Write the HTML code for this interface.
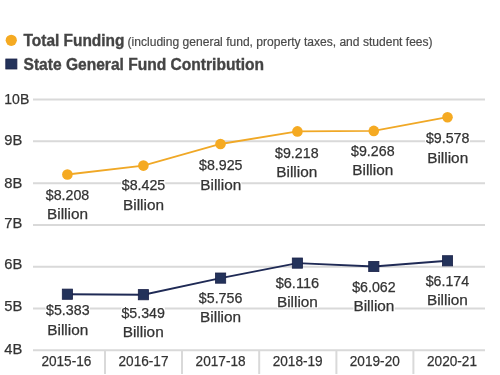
<!DOCTYPE html><html><head><meta charset="utf-8"><style>html,body{margin:0;padding:0;background:#fff;width:500px;height:375px;overflow:hidden}svg{display:block;will-change:transform}text{font-family:"Liberation Sans",sans-serif}</style></head><body>
<svg width="500" height="375" viewBox="0 0 500 375">
<circle cx="11.25" cy="40.3" r="5.6" fill="#f5aa22"/>
<rect x="5.8" y="59" width="11.1" height="10" fill="#23325a" stroke="#1a2148" stroke-width="0.8"/>
<text x="23.5" y="46" font-size="15.8" font-weight="bold" fill="#444" stroke="#444" stroke-width="0.35" textLength="101" lengthAdjust="spacingAndGlyphs">Total Funding</text>
<text x="127.6" y="45.5" font-size="12.5" fill="#4a4a4a" stroke="#4a4a4a" stroke-width="0.2" textLength="305" lengthAdjust="spacingAndGlyphs">(including general fund, property taxes, and student fees)</text>
<text x="23.5" y="69.6" font-size="15.8" font-weight="bold" fill="#444" stroke="#444" stroke-width="0.35" textLength="240.5" lengthAdjust="spacingAndGlyphs">State General Fund Contribution</text>
<line x1="33" y1="99.60" x2="485" y2="99.60" stroke="#d9d9d9" stroke-width="2"/>
<text x="4.3" y="103.5" font-size="14.8" fill="#333333" stroke="#333333" stroke-width="0.25" textLength="25" lengthAdjust="spacingAndGlyphs">10B</text>
<line x1="33" y1="141.37" x2="485" y2="141.37" stroke="#d9d9d9" stroke-width="2"/>
<text x="4.3" y="144.7" font-size="14.8" fill="#333333" stroke="#333333" stroke-width="0.25" textLength="18" lengthAdjust="spacingAndGlyphs">9B</text>
<line x1="33" y1="183.14" x2="485" y2="183.14" stroke="#d9d9d9" stroke-width="2"/>
<text x="4.3" y="187.6" font-size="14.8" fill="#333333" stroke="#333333" stroke-width="0.25" textLength="18" lengthAdjust="spacingAndGlyphs">8B</text>
<line x1="33" y1="224.91" x2="485" y2="224.91" stroke="#d9d9d9" stroke-width="2"/>
<text x="4.3" y="227.5" font-size="14.8" fill="#333333" stroke="#333333" stroke-width="0.25" textLength="18" lengthAdjust="spacingAndGlyphs">7B</text>
<line x1="33" y1="266.68" x2="485" y2="266.68" stroke="#d9d9d9" stroke-width="2"/>
<text x="4.3" y="268.9" font-size="14.8" fill="#333333" stroke="#333333" stroke-width="0.25" textLength="18" lengthAdjust="spacingAndGlyphs">6B</text>
<line x1="33" y1="308.45" x2="485" y2="308.45" stroke="#d9d9d9" stroke-width="2"/>
<text x="4.3" y="311.2" font-size="14.8" fill="#333333" stroke="#333333" stroke-width="0.25" textLength="18" lengthAdjust="spacingAndGlyphs">5B</text>
<line x1="33" y1="350.22" x2="485" y2="350.22" stroke="#d9d9d9" stroke-width="2"/>
<text x="4.3" y="353.8" font-size="14.8" fill="#333333" stroke="#333333" stroke-width="0.25" textLength="18" lengthAdjust="spacingAndGlyphs">4B</text>
<line x1="105" y1="350" x2="105" y2="374" stroke="#d9d9d9" stroke-width="2"/>
<line x1="182" y1="350" x2="182" y2="374" stroke="#d9d9d9" stroke-width="2"/>
<line x1="259.2" y1="350" x2="259.2" y2="374" stroke="#d9d9d9" stroke-width="2"/>
<line x1="336.4" y1="350" x2="336.4" y2="374" stroke="#d9d9d9" stroke-width="2"/>
<line x1="413.4" y1="350" x2="413.4" y2="374" stroke="#d9d9d9" stroke-width="2"/>
<text x="41.400000000000006" y="365.6" font-size="15.2" fill="#333333" stroke="#333333" stroke-width="0.25" textLength="50" lengthAdjust="spacingAndGlyphs">2015-16</text>
<text x="118.5" y="365.6" font-size="15.2" fill="#333333" stroke="#333333" stroke-width="0.25" textLength="50" lengthAdjust="spacingAndGlyphs">2016-17</text>
<text x="195.6" y="365.6" font-size="15.2" fill="#333333" stroke="#333333" stroke-width="0.25" textLength="50" lengthAdjust="spacingAndGlyphs">2017-18</text>
<text x="272.7" y="365.6" font-size="15.2" fill="#333333" stroke="#333333" stroke-width="0.25" textLength="50" lengthAdjust="spacingAndGlyphs">2018-19</text>
<text x="349.8" y="365.6" font-size="15.2" fill="#333333" stroke="#333333" stroke-width="0.25" textLength="50" lengthAdjust="spacingAndGlyphs">2019-20</text>
<text x="427" y="365.6" font-size="15.2" fill="#333333" stroke="#333333" stroke-width="0.25" textLength="50" lengthAdjust="spacingAndGlyphs">2020-21</text>
<polyline fill="none" stroke="#f0a826" stroke-width="1.8" points="67.4,174.5 143.4,165.6 220.5,144 297.4,131.4 373.8,130.9 447.5,117.2"/>
<polyline fill="none" stroke="#1f2a55" stroke-width="1.9" points="67.4,294.2 143.4,294.7 220.6,278.1 297.4,263.1 373.8,266.5 447.5,260.8"/>
<circle cx="67.4" cy="174.5" r="5.3" fill="#f5aa22"/>
<circle cx="143.4" cy="165.6" r="5.3" fill="#f5aa22"/>
<circle cx="220.5" cy="144" r="5.3" fill="#f5aa22"/>
<circle cx="297.4" cy="131.4" r="5.3" fill="#f5aa22"/>
<circle cx="373.8" cy="130.9" r="5.3" fill="#f5aa22"/>
<circle cx="447.5" cy="117.2" r="5.3" fill="#f5aa22"/>
<rect x="62.30" y="289.10" width="10.2" height="10.2" fill="#23325a" stroke="#1a2148" stroke-width="0.8"/>
<rect x="138.30" y="289.60" width="10.2" height="10.2" fill="#23325a" stroke="#1a2148" stroke-width="0.8"/>
<rect x="215.50" y="273.00" width="10.2" height="10.2" fill="#23325a" stroke="#1a2148" stroke-width="0.8"/>
<rect x="292.30" y="258.00" width="10.2" height="10.2" fill="#23325a" stroke="#1a2148" stroke-width="0.8"/>
<rect x="368.70" y="261.40" width="10.2" height="10.2" fill="#23325a" stroke="#1a2148" stroke-width="0.8"/>
<rect x="442.40" y="255.70" width="10.2" height="10.2" fill="#23325a" stroke="#1a2148" stroke-width="0.8"/>
<rect x="45.75" y="189.20" width="43.5" height="11.2" fill="#fff"/>
<text x="45.75" y="199.80" font-size="14.6" textLength="43.5" lengthAdjust="spacingAndGlyphs" fill="#fff" stroke="#fff" stroke-width="2.5" stroke-linejoin="round">$8.208</text>
<text x="45.75" y="199.80" font-size="14.6" textLength="43.5" lengthAdjust="spacingAndGlyphs" fill="#333333" stroke="#333333" stroke-width="0.25">$8.208</text>
<text x="47.00" y="219.20" font-size="14.6" textLength="41" lengthAdjust="spacingAndGlyphs" fill="#fff" stroke="#fff" stroke-width="2.5" stroke-linejoin="round">Billion</text>
<text x="47.00" y="219.20" font-size="14.6" textLength="41" lengthAdjust="spacingAndGlyphs" fill="#333333" stroke="#333333" stroke-width="0.25">Billion</text>
<rect x="121.75" y="179.80" width="43.5" height="11.2" fill="#fff"/>
<text x="121.75" y="190.40" font-size="14.6" textLength="43.5" lengthAdjust="spacingAndGlyphs" fill="#fff" stroke="#fff" stroke-width="2.5" stroke-linejoin="round">$8.425</text>
<text x="121.75" y="190.40" font-size="14.6" textLength="43.5" lengthAdjust="spacingAndGlyphs" fill="#333333" stroke="#333333" stroke-width="0.25">$8.425</text>
<text x="123.00" y="209.80" font-size="14.6" textLength="41" lengthAdjust="spacingAndGlyphs" fill="#fff" stroke="#fff" stroke-width="2.5" stroke-linejoin="round">Billion</text>
<text x="123.00" y="209.80" font-size="14.6" textLength="41" lengthAdjust="spacingAndGlyphs" fill="#333333" stroke="#333333" stroke-width="0.25">Billion</text>
<rect x="199.00" y="159.60" width="43.5" height="11.2" fill="#fff"/>
<text x="199.00" y="170.20" font-size="14.6" textLength="43.5" lengthAdjust="spacingAndGlyphs" fill="#fff" stroke="#fff" stroke-width="2.5" stroke-linejoin="round">$8.925</text>
<text x="199.00" y="170.20" font-size="14.6" textLength="43.5" lengthAdjust="spacingAndGlyphs" fill="#333333" stroke="#333333" stroke-width="0.25">$8.925</text>
<text x="200.25" y="189.60" font-size="14.6" textLength="41" lengthAdjust="spacingAndGlyphs" fill="#fff" stroke="#fff" stroke-width="2.5" stroke-linejoin="round">Billion</text>
<text x="200.25" y="189.60" font-size="14.6" textLength="41" lengthAdjust="spacingAndGlyphs" fill="#333333" stroke="#333333" stroke-width="0.25">Billion</text>
<rect x="275.05" y="147.20" width="43.5" height="11.2" fill="#fff"/>
<text x="275.05" y="157.80" font-size="14.6" textLength="43.5" lengthAdjust="spacingAndGlyphs" fill="#fff" stroke="#fff" stroke-width="2.5" stroke-linejoin="round">$9.218</text>
<text x="275.05" y="157.80" font-size="14.6" textLength="43.5" lengthAdjust="spacingAndGlyphs" fill="#333333" stroke="#333333" stroke-width="0.25">$9.218</text>
<text x="276.30" y="177.20" font-size="14.6" textLength="41" lengthAdjust="spacingAndGlyphs" fill="#fff" stroke="#fff" stroke-width="2.5" stroke-linejoin="round">Billion</text>
<text x="276.30" y="177.20" font-size="14.6" textLength="41" lengthAdjust="spacingAndGlyphs" fill="#333333" stroke="#333333" stroke-width="0.25">Billion</text>
<rect x="351.05" y="145.40" width="43.5" height="11.2" fill="#fff"/>
<text x="351.05" y="156.00" font-size="14.6" textLength="43.5" lengthAdjust="spacingAndGlyphs" fill="#fff" stroke="#fff" stroke-width="2.5" stroke-linejoin="round">$9.268</text>
<text x="351.05" y="156.00" font-size="14.6" textLength="43.5" lengthAdjust="spacingAndGlyphs" fill="#333333" stroke="#333333" stroke-width="0.25">$9.268</text>
<text x="352.30" y="175.40" font-size="14.6" textLength="41" lengthAdjust="spacingAndGlyphs" fill="#fff" stroke="#fff" stroke-width="2.5" stroke-linejoin="round">Billion</text>
<text x="352.30" y="175.40" font-size="14.6" textLength="41" lengthAdjust="spacingAndGlyphs" fill="#333333" stroke="#333333" stroke-width="0.25">Billion</text>
<rect x="425.95" y="132.80" width="43.5" height="11.2" fill="#fff"/>
<text x="425.95" y="143.40" font-size="14.6" textLength="43.5" lengthAdjust="spacingAndGlyphs" fill="#fff" stroke="#fff" stroke-width="2.5" stroke-linejoin="round">$9.578</text>
<text x="425.95" y="143.40" font-size="14.6" textLength="43.5" lengthAdjust="spacingAndGlyphs" fill="#333333" stroke="#333333" stroke-width="0.25">$9.578</text>
<text x="427.20" y="162.80" font-size="14.6" textLength="41" lengthAdjust="spacingAndGlyphs" fill="#fff" stroke="#fff" stroke-width="2.5" stroke-linejoin="round">Billion</text>
<text x="427.20" y="162.80" font-size="14.6" textLength="41" lengthAdjust="spacingAndGlyphs" fill="#333333" stroke="#333333" stroke-width="0.25">Billion</text>
<rect x="46.05" y="304.80" width="43.5" height="11.2" fill="#fff"/>
<text x="46.05" y="315.40" font-size="14.6" textLength="43.5" lengthAdjust="spacingAndGlyphs" fill="#fff" stroke="#fff" stroke-width="2.5" stroke-linejoin="round">$5.383</text>
<text x="46.05" y="315.40" font-size="14.6" textLength="43.5" lengthAdjust="spacingAndGlyphs" fill="#333333" stroke="#333333" stroke-width="0.25">$5.383</text>
<text x="47.30" y="334.80" font-size="14.6" textLength="41" lengthAdjust="spacingAndGlyphs" fill="#fff" stroke="#fff" stroke-width="2.5" stroke-linejoin="round">Billion</text>
<text x="47.30" y="334.80" font-size="14.6" textLength="41" lengthAdjust="spacingAndGlyphs" fill="#333333" stroke="#333333" stroke-width="0.25">Billion</text>
<rect x="121.45" y="307.40" width="43.5" height="11.2" fill="#fff"/>
<text x="121.45" y="318.00" font-size="14.6" textLength="43.5" lengthAdjust="spacingAndGlyphs" fill="#fff" stroke="#fff" stroke-width="2.5" stroke-linejoin="round">$5.349</text>
<text x="121.45" y="318.00" font-size="14.6" textLength="43.5" lengthAdjust="spacingAndGlyphs" fill="#333333" stroke="#333333" stroke-width="0.25">$5.349</text>
<text x="122.70" y="337.40" font-size="14.6" textLength="41" lengthAdjust="spacingAndGlyphs" fill="#fff" stroke="#fff" stroke-width="2.5" stroke-linejoin="round">Billion</text>
<text x="122.70" y="337.40" font-size="14.6" textLength="41" lengthAdjust="spacingAndGlyphs" fill="#333333" stroke="#333333" stroke-width="0.25">Billion</text>
<rect x="198.85" y="292.40" width="43.5" height="11.2" fill="#fff"/>
<text x="198.85" y="303.00" font-size="14.6" textLength="43.5" lengthAdjust="spacingAndGlyphs" fill="#fff" stroke="#fff" stroke-width="2.5" stroke-linejoin="round">$5.756</text>
<text x="198.85" y="303.00" font-size="14.6" textLength="43.5" lengthAdjust="spacingAndGlyphs" fill="#333333" stroke="#333333" stroke-width="0.25">$5.756</text>
<text x="200.10" y="322.40" font-size="14.6" textLength="41" lengthAdjust="spacingAndGlyphs" fill="#fff" stroke="#fff" stroke-width="2.5" stroke-linejoin="round">Billion</text>
<text x="200.10" y="322.40" font-size="14.6" textLength="41" lengthAdjust="spacingAndGlyphs" fill="#333333" stroke="#333333" stroke-width="0.25">Billion</text>
<rect x="275.65" y="277.40" width="43.5" height="11.2" fill="#fff"/>
<text x="275.65" y="288.00" font-size="14.6" textLength="43.5" lengthAdjust="spacingAndGlyphs" fill="#fff" stroke="#fff" stroke-width="2.5" stroke-linejoin="round">$6.116</text>
<text x="275.65" y="288.00" font-size="14.6" textLength="43.5" lengthAdjust="spacingAndGlyphs" fill="#333333" stroke="#333333" stroke-width="0.25">$6.116</text>
<text x="276.90" y="307.40" font-size="14.6" textLength="41" lengthAdjust="spacingAndGlyphs" fill="#fff" stroke="#fff" stroke-width="2.5" stroke-linejoin="round">Billion</text>
<text x="276.90" y="307.40" font-size="14.6" textLength="41" lengthAdjust="spacingAndGlyphs" fill="#333333" stroke="#333333" stroke-width="0.25">Billion</text>
<rect x="352.15" y="281.00" width="43.5" height="11.2" fill="#fff"/>
<text x="352.15" y="291.60" font-size="14.6" textLength="43.5" lengthAdjust="spacingAndGlyphs" fill="#fff" stroke="#fff" stroke-width="2.5" stroke-linejoin="round">$6.062</text>
<text x="352.15" y="291.60" font-size="14.6" textLength="43.5" lengthAdjust="spacingAndGlyphs" fill="#333333" stroke="#333333" stroke-width="0.25">$6.062</text>
<text x="353.40" y="311.00" font-size="14.6" textLength="41" lengthAdjust="spacingAndGlyphs" fill="#fff" stroke="#fff" stroke-width="2.5" stroke-linejoin="round">Billion</text>
<text x="353.40" y="311.00" font-size="14.6" textLength="41" lengthAdjust="spacingAndGlyphs" fill="#333333" stroke="#333333" stroke-width="0.25">Billion</text>
<rect x="425.65" y="275.40" width="43.5" height="11.2" fill="#fff"/>
<text x="425.65" y="286.00" font-size="14.6" textLength="43.5" lengthAdjust="spacingAndGlyphs" fill="#fff" stroke="#fff" stroke-width="2.5" stroke-linejoin="round">$6.174</text>
<text x="425.65" y="286.00" font-size="14.6" textLength="43.5" lengthAdjust="spacingAndGlyphs" fill="#333333" stroke="#333333" stroke-width="0.25">$6.174</text>
<text x="426.90" y="305.40" font-size="14.6" textLength="41" lengthAdjust="spacingAndGlyphs" fill="#fff" stroke="#fff" stroke-width="2.5" stroke-linejoin="round">Billion</text>
<text x="426.90" y="305.40" font-size="14.6" textLength="41" lengthAdjust="spacingAndGlyphs" fill="#333333" stroke="#333333" stroke-width="0.25">Billion</text>
</svg></body></html>
